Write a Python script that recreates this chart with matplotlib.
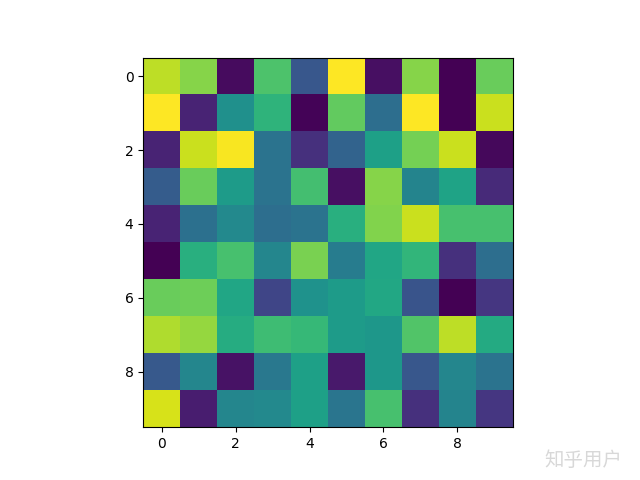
import numpy as np
import matplotlib
matplotlib.use("Agg")
import matplotlib.pyplot as plt

row0 = [0.90, 0.82, 0.03, 0.72, 0.27, 1.00, 0.04, 0.82, 0.00, 0.77]
row1 = [1.00, 0.10, 0.50, 0.65, 0.01, 0.76, 0.36, 1.00, 0.00, 0.92]
row2 = [0.10, 0.92, 0.99, 0.38, 0.14, 0.32, 0.57, 0.79, 0.92, 0.02]
row3 = [0.29, 0.77, 0.55, 0.38, 0.70, 0.04, 0.82, 0.45, 0.58, 0.12]
row4 = [0.10, 0.37, 0.47, 0.36, 0.38, 0.63, 0.81, 0.92, 0.71, 0.71]
row5 = [0.00, 0.63, 0.71, 0.46, 0.80, 0.42, 0.59, 0.66, 0.14, 0.36]
row6 = [0.77, 0.78, 0.59, 0.21, 0.51, 0.55, 0.60, 0.26, 0.00, 0.16]
row7 = [0.88, 0.84, 0.62, 0.69, 0.67, 0.55, 0.53, 0.73, 0.90, 0.61]
row8 = [0.28, 0.46, 0.05, 0.40, 0.57, 0.07, 0.53, 0.27, 0.46, 0.38]
row9 = [0.94, 0.08, 0.46, 0.47, 0.57, 0.39, 0.71, 0.14, 0.45, 0.16]

data = np.array([row0, row1, row2, row3, row4, row5, row6, row7, row8, row9])

fig = plt.figure(figsize=(6.4, 4.8), dpi=100)
ax = fig.add_subplot(111)
ax.imshow(data, cmap="viridis")
fig.text(0.851, 0.03, "知乎用户", fontsize=14, color="#d8d8d8",
         family=["Noto Sans CJK SC", "DejaVu Sans"])
fig.savefig("out.png", dpi=100)
